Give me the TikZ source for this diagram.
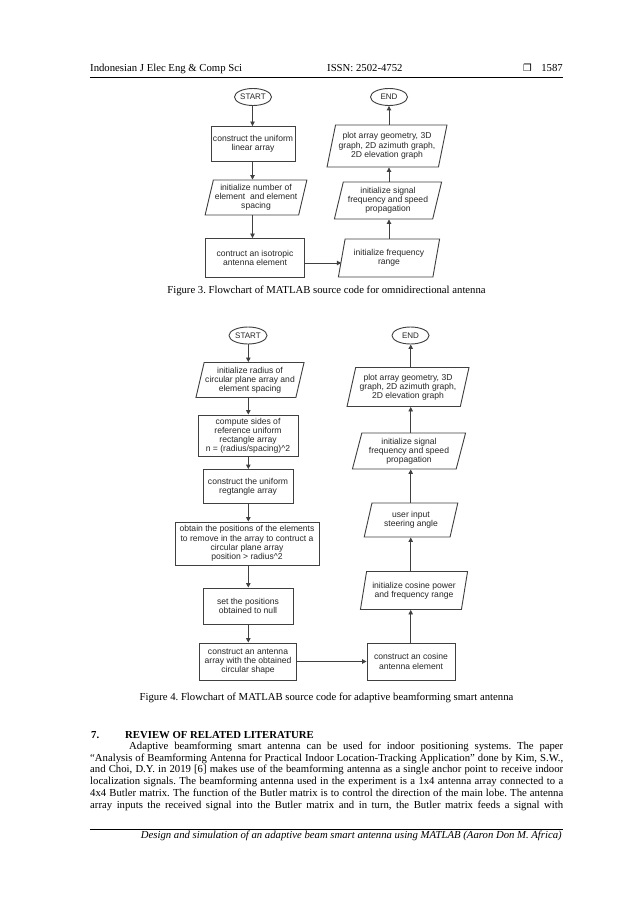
\documentclass[tikz,border=0pt]{standalone}
\usepackage{fontspec}
\setmainfont{Liberation Serif}
\newfontfamily\flowfont{Liberation Sans}
\newfontfamily\symfont{DejaVu Sans}
\usetikzlibrary{shapes.geometric,arrows.meta}
\newcommand{\pxu}{0.9333pt}
\frenchspacing
\tikzset{
  fc/.style={font=\flowfont\fontsize{8}{8.6}\selectfont, text=black!85, align=center,
    draw=black!75, line width=0.85pt, inner sep=1pt},
  procbox/.style={fc, rectangle},
  iobox/.style={fc, trapezium, trapezium left angle=74, trapezium right angle=106,
    trapezium stretches=true},
  termnode/.style={fc, ellipse, inner sep=0pt, font=\flowfont\fontsize{7.5}{8}\selectfont,
    minimum width=37*\pxu, minimum height=17*\pxu},
  conn/.style={draw=black!75, line width=0.85pt, -{Triangle[length=4.2pt,width=4.2pt]}},
  pagetext/.style={inner sep=0pt, font=\fontsize{10}{12}\selectfont},
}
\begin{document}
\begin{tikzpicture}[x=0.9333pt, y=-0.9333pt]
\useasboundingbox[fill=white] (0,0) rectangle (638,902);

% ---------- header ----------
\node[pagetext, anchor=base west] (hdl) at (90,71.5) {Indonesian J Elec Eng \& Comp Sci};
\node[pagetext, anchor=base west] (hdc) at (327,71.5) {ISSN: 2502-4752};
\node[pagetext, anchor=base east] (hdr) at (563,71.5) {1587};
\node[inner sep=0pt, anchor=base, font=\symfont\fontsize{9}{10}\selectfont] (hds) at (527.5,71.5) {❒};
\coordinate (hrl) at (90,77);
\coordinate (hrr) at (563,77);
\draw[line width=0.8pt] (hrl) -- (hrr);

% ---------- Figure 3 ----------
\node[termnode] (s3) at (253,97) {START};
\node[procbox, minimum width=84*\pxu, minimum height=35*\pxu] (a3) at (253,144) {construct the uniform\\linear array};
\node[iobox, minimum width=102*\pxu, minimum height=35*\pxu] (b3) at (256,197.5) {initialize number of\\element~ and element\\spacing};
\node[procbox, minimum width=99*\pxu, minimum height=39*\pxu] (c3) at (255,258) {contruct an isotropic\\antenna element};

\node[termnode] (e3) at (389,97) {END};
\node[iobox, minimum width=120*\pxu, minimum height=42*\pxu] (f3) at (387,146) {plot array geometry, 3D\\graph, 2D azimuth graph,\\2D elevation graph};
\node[iobox, minimum width=108*\pxu, minimum height=37*\pxu] (g3) at (388,200.5) {initialize signal\\frequency and speed\\propagation};
\node[iobox, minimum width=102*\pxu, minimum height=38*\pxu] (h3) at (389,258) {initialize frequency\\range};

\draw[conn] (s3.south -| 252.5,0) -- (a3.north -| 252.5,0);
\draw[conn] (a3.south -| 252.5,0) -- (b3.north -| 252.5,0);
\draw[conn] (b3.south -| 252.5,0) -- (c3.north -| 252.5,0);
\draw[conn] ([yshift=-5*\pxu]c3.east) -- ([yshift=-5*\pxu]c3.east -| h3.west);
\draw[conn] (h3.north -| 389,0) -- (g3.south -| 389,0);
\draw[conn] (g3.north -| 389,0) -- (f3.south -| 389,0);
\draw[conn] (f3.north -| 389,0) -- (e3.south -| 389,0);

\node[pagetext, anchor=base] (cap3) at (326.5,293.5) {Figure 3. Flowchart of MATLAB source code for omnidirectional antenna};

% ---------- Figure 4 ----------
\node[termnode, minimum width=38*\pxu] (s4) at (248,335.5) {START};
\node[iobox, minimum width=106*\pxu, minimum height=35*\pxu] (p1) at (250,380) {initialize radius of\\circular plane array and\\element spacing};
\node[procbox, minimum width=100*\pxu, minimum height=41*\pxu, font=\flowfont\fontsize{8}{8.4}\selectfont] (k1) at (248,435.5) {compute sides of\\reference uniform\\rectangle array\\n = (radius/spacing)\string^2};
\node[procbox, minimum width=90*\pxu, minimum height=34*\pxu] (k2) at (248,486.5) {construct the uniform\\regtangle array};
\node[procbox, minimum width=144*\pxu, minimum height=43*\pxu] (k3) at (247,543.5) {obtain the positions of the elements\\to remove in the array to contruct a\\circular plane array\\position > radius\string^2};
\node[procbox, minimum width=90*\pxu, minimum height=36*\pxu] (k4) at (248,606) {set the positions\\obtained to null};
\node[procbox, minimum width=97*\pxu, minimum height=37*\pxu] (k5) at (248,661.5) {construct an antenna\\array with the obtained\\circular shape};

\node[termnode] (e4) at (410.5,335.5) {END};
\node[iobox, minimum width=122*\pxu, minimum height=39*\pxu] (q1) at (408,387) {plot array geometry, 3D\\graph, 2D azimuth graph,\\2D elevation graph};
\node[iobox, minimum width=114*\pxu, minimum height=36*\pxu] (q2) at (409,451) {initialize signal\\frequency and speed\\propagation};
\node[iobox, minimum width=94*\pxu, minimum height=34*\pxu] (q3) at (411,520) {user input\\steering angle};
\node[iobox, minimum width=108*\pxu, minimum height=38*\pxu] (q4) at (414,590.5) {initialize cosine power\\and frequency range};
\node[procbox, minimum width=88*\pxu, minimum height=37*\pxu] (q5) at (411,661.5) {construct an cosine\\antenna element};

\draw[conn] (s4.south -| 248.3,0) -- (p1.north -| 248.3,0);
\draw[conn] (p1.south -| 248.3,0) -- (k1.north -| 248.3,0);
\draw[conn] (k1.south -| 248.3,0) -- (k2.north -| 248.3,0);
\draw[conn] (k2.south -| 248.3,0) -- (k3.north -| 248.3,0);
\draw[conn] (k3.south -| 248.3,0) -- (k4.north -| 248.3,0);
\draw[conn] (k4.south -| 248.3,0) -- (k5.north -| 248.3,0);
\draw[conn] (k5.east) -- (q5.west);
\draw[conn] (q5.north -| 410.7,0) -- (q4.south -| 410.7,0);
\draw[conn] (q4.north -| 410.7,0) -- (q3.south -| 410.7,0);
\draw[conn] (q3.north -| 410.7,0) -- (q2.south -| 410.7,0);
\draw[conn] (q2.north -| 410.7,0) -- (q1.south -| 410.7,0);
\draw[conn] (q1.north -| 410.7,0) -- (e4.south -| 410.7,0);

\node[pagetext, anchor=base] (cap4) at (326.5,700.5) {Figure 4. Flowchart of MATLAB source code for adaptive beamforming smart antenna};

% ---------- Section text ----------
\node[pagetext, anchor=base west, font=\fontsize{10}{12}\selectfont\bfseries] (secn) at (91,738) {7.};
\node[pagetext, anchor=base west, font=\fontsize{10}{12}\selectfont\bfseries] (sect) at (125,738) {REVIEW OF RELATED LITERATURE};

\node[pagetext, anchor=base west] (l1) at (129,749.5) {\makebox[405.1pt][s]{Adaptive beamforming smart antenna can be used for indoor positioning systems. The paper}};
\node[pagetext, anchor=base west] (l2) at (90,761.2) {\makebox[441.45pt][s]{“Analysis of Beamforming Antenna for Practical Indoor Location-Tracking Application" done by Kim, S.W.,}};
\node[pagetext, anchor=base west] (l3) at (90,772.9) {\makebox[441.45pt][s]{and Choi, D.Y. in 2019 [6] makes use of the beamforming antenna as a single anchor point to receive indoor}};
\node[pagetext, anchor=base west] (l4) at (90,784.6) {\makebox[441.45pt][s]{localization signals. The beamforming antenna used in the experiment is a 1x4 antenna array connected to a}};
\node[pagetext, anchor=base west] (l5) at (90,796.3) {\makebox[441.45pt][s]{4x4 Butler matrix. The function of the Butler matrix is to control the direction of the main lobe. The antenna}};
\node[pagetext, anchor=base west] (l6) at (90,808) {\makebox[441.45pt][s]{array inputs the received signal into the Butler matrix and in turn, the Butler matrix feeds a signal with}};

% ---------- footer ----------
\coordinate (frl) at (90,829.3);
\coordinate (frr) at (563,829.3);
\draw[line width=0.8pt] (frl) -- (frr);
\node[pagetext, anchor=base east, font=\fontsize{10}{12}\selectfont\itshape] (ftr) at (562,838.5) {Design and simulation of an adaptive beam smart antenna using MATLAB (Aaron Don M. Africa)};
\end{tikzpicture}
\end{document}
